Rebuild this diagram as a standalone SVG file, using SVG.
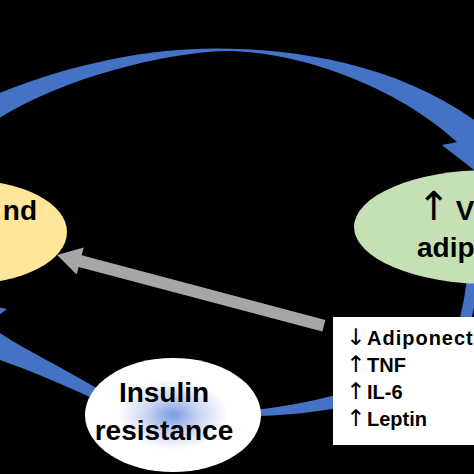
<svg xmlns="http://www.w3.org/2000/svg" width="474" height="474" viewBox="0 0 474 474">
  <defs>
    <radialGradient id="glow" cx="0.5" cy="0.5" r="0.5">
      <stop offset="0" stop-color="#7C9BE4"/>
      <stop offset="0.3" stop-color="#C9D5F4"/>
      <stop offset="0.62" stop-color="#FFFFFF"/>
      <stop offset="1" stop-color="#FFFFFF"/>
    </radialGradient>
    <style>
      .arc { fill: #4472C4; }
      .grey { fill: #A6A6A6; }
      .lbl { font-family: "Liberation Sans", Arial, sans-serif; font-weight: bold; fill: #000; }
      .big { font-size: 28px; }
      .small { font-size: 20px; }
      .arw { font-family: "DejaVu Sans", sans-serif; font-weight: normal; }
      .barw { font-size: 23px; }
    </style>
  </defs>
  <rect x="0" y="0" width="474" height="474" fill="#000"/>

  <g id="connectors">
    <path class="arc" d="M -10,97 C 70,63 150,48.5 215,48.5 C 300,48.5 400,65 480,124 L 510,110 L 492,184 L 442,145 L 457,142 C 397,87 300,51 225,51 C 160,53 55,80 -10,124 Z"/>
    <path class="arc" d="M 468,270 Q 465,300 458,325 C 420,375 340,400 255,410 L 255,416 C 370,414 440,380 470,325 Q 476,300 481,270 Z"/>
    <path class="arc" d="M 105,393 C 60,366 20,347 0,333 C -5,329 -8,325 -8,320 L 7,309 L -45,297 L -60,330 L -35,338 L -20,350 L 0,360 C 35,372 70,388 105,404 Z"/>
    <polygon class="grey" points="325.4,319.9 81.7,255.3 83.8,247.6 57,255 76.6,274.6 78.7,266.9 322.4,331.5"/>
  </g>

  <g id="node-yellow">
    <ellipse cx="-33" cy="232" rx="100" ry="52" fill="#FFE699"/>
    <text class="lbl big" x="37" y="220" text-anchor="end">nd</text>
  </g>

  <g id="node-green">
    <ellipse cx="490" cy="227" rx="136" ry="57" fill="#C5E0B4"/>
    <text class="lbl big" y="220"><tspan class="arw" x="417" font-size="40">↑</tspan><tspan x="448"> V</tspan></text>
    <text class="lbl big" x="417" y="257">adip</text>
  </g>

  <g id="node-insulin">
    <ellipse cx="173" cy="415" rx="88" ry="57" fill="url(#glow)"/>
    <text class="lbl big" x="164" y="402" text-anchor="middle">Insulin</text>
    <text class="lbl big" x="164" y="440" text-anchor="middle">resistance</text>
  </g>

  <g id="node-box">
    <rect x="333" y="317" width="150" height="128" fill="#FFFFFF"/>
    <text class="lbl small" y="345"><tspan class="arw barw" x="346">↓</tspan><tspan x="367" letter-spacing="1">Adiponect</tspan></text>
    <text class="lbl small" y="372"><tspan class="arw barw" x="346">↑</tspan><tspan x="367">TNF</tspan></text>
    <text class="lbl small" y="399"><tspan class="arw barw" x="346">↑</tspan><tspan x="367">IL-6</tspan></text>
    <text class="lbl small" y="426"><tspan class="arw barw" x="346">↑</tspan><tspan x="367">Leptin</tspan></text>
  </g>
</svg>
